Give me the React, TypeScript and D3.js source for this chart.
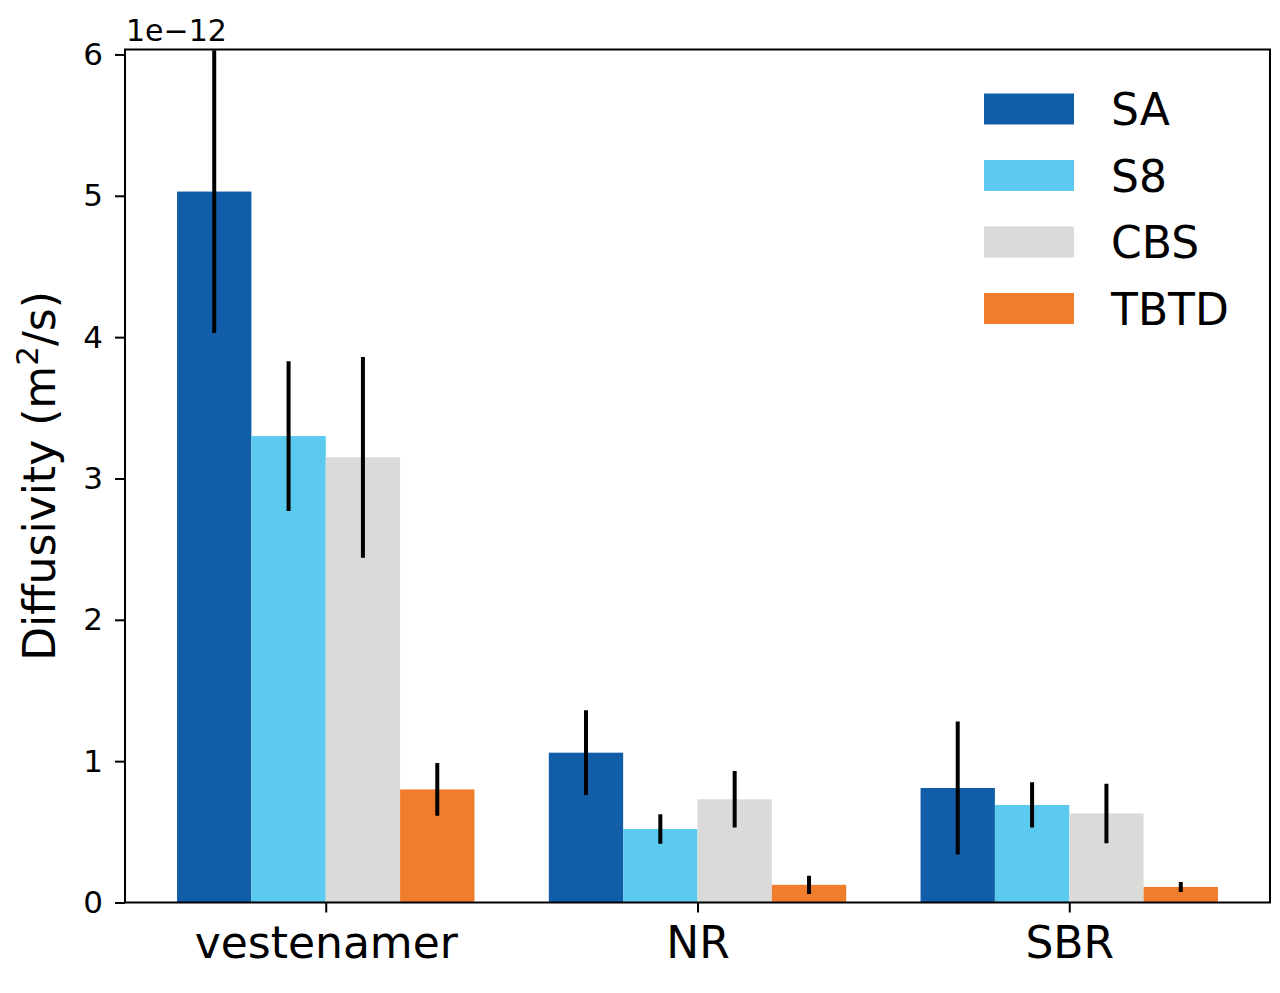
import { useEffect, useRef } from "react";
import * as d3 from "d3";

const categories = ["vestenamer", "NR", "SBR"];
const seriesNames = ["SA", "S8", "CBS", "TBTD"];
const seriesColors = ["#115da8", "#5bcaee", "#dadad8", "#ef7d2b"];
// mean values (x 1e-12 m2/s), one row per series
const meanSA = [5.03, 1.06, 0.81];
const meanS8 = [3.3, 0.52, 0.69];
const meanCBS = [3.15, 0.73, 0.63];
const meanTBTD = [0.8, 0.125, 0.11];
// symmetric error half-widths
const errSA = [1.0, 0.3, 0.47];
const errS8 = [0.53, 0.105, 0.16];
const errCBS = [0.71, 0.2, 0.21];
const errTBTD = [0.187, 0.065, 0.035];
const yTicks = [0, 1, 2, 3, 4, 5, 6];

const W = 1280;
const H = 993;
const M = { left: 125, right: 1270, top: 49.5, bottom: 902.5 };
const FONT = "DejaVu Sans, sans-serif";

export default function App() {
  const ref = useRef<SVGSVGElement | null>(null);

  useEffect(() => {
    const svgEl = ref.current;
    if (!svgEl) return;
    const svg = d3.select(svgEl);
    svg.selectAll("*").remove();

    const means = [meanSA, meanS8, meanCBS, meanTBTD];
    const errs = [errSA, errS8, errCBS, errTBTD];
    const barW = 0.2;

    const x = d3.scaleLinear().domain([-0.54, 2.54]).range([M.left, M.right]);
    const y = d3.scaleLinear().domain([0, 6.035]).range([M.bottom, M.top]);

    svg
      .append("defs")
      .append("clipPath")
      .attr("id", "plot-clip")
      .append("rect")
      .attr("x", M.left)
      .attr("y", M.top)
      .attr("width", M.right - M.left)
      .attr("height", M.bottom - M.top);

    const plot = svg.append("g").attr("clip-path", "url(#plot-clip)");

    // bars
    seriesNames.forEach((_, s) => {
      const off = (s - 1.5) * barW;
      plot
        .append("g")
        .selectAll("rect")
        .data(means[s])
        .join("rect")
        .attr("x", (_d, i) => x(i + off - barW / 2))
        .attr("width", x(barW) - x(0))
        .attr("y", (d) => y(d))
        .attr("height", (d) => y(0) - y(d))
        .attr("fill", seriesColors[s]);
    });

    // error bars (no caps)
    seriesNames.forEach((_, s) => {
      const off = (s - 1.5) * barW;
      plot
        .append("g")
        .selectAll("line")
        .data(means[s])
        .join("line")
        .attr("x1", (_d, i) => x(i + off))
        .attr("x2", (_d, i) => x(i + off))
        .attr("y1", (d, i) => y(d - errs[s][i]))
        .attr("y2", (d, i) => y(d + errs[s][i]))
        .attr("stroke", "#000")
        .attr("stroke-width", 4);
    });

    // frame
    svg
      .append("rect")
      .attr("x", M.left)
      .attr("y", M.top)
      .attr("width", M.right - M.left)
      .attr("height", M.bottom - M.top)
      .attr("fill", "none")
      .attr("stroke", "#000")
      .attr("stroke-width", 2);

    // y axis
    const yAxis = svg
      .append("g")
      .attr("transform", `translate(${M.left},0)`)
      .call(d3.axisLeft(y).tickValues(yTicks).tickSize(10).tickPadding(12).tickFormat(d3.format("d")));
    yAxis.select(".domain").remove();
    yAxis.selectAll(".tick line").attr("stroke-width", 2);
    yAxis.selectAll(".tick text").style("font", `31px ${FONT}`).attr("fill", "#000");

    // x axis
    const xAxis = svg
      .append("g")
      .attr("transform", `translate(0,${M.bottom})`)
      .call(
        d3
          .axisBottom(x)
          .tickValues([0, 1, 2])
          .tickSize(10)
          .tickPadding(14)
          .tickFormat((d) => categories[d as number])
      );
    xAxis.select(".domain").remove();
    xAxis.selectAll(".tick line").attr("stroke-width", 2);
    xAxis.selectAll(".tick text").style("font", `44px ${FONT}`).attr("fill", "#000");

    // offset text
    svg
      .append("text")
      .attr("x", M.left + 1)
      .attr("y", 41)
      .style("font", `30px ${FONT}`)
      .text("1e\u221212");

    // y label
    const yl = svg
      .append("text")
      .attr("transform", `translate(55,${(M.top + M.bottom) / 2}) rotate(-90)`)
      .attr("text-anchor", "middle")
      .style("font", `44px ${FONT}`);
    yl.append("tspan").text("Diffusivity (m");
    yl.append("tspan").attr("dy", -17).style("font-size", "31px").text("2");
    yl.append("tspan").attr("dy", 17).text("/s)");

    // legend
    const leg = svg
      .append("g")
      .selectAll("g")
      .data(seriesNames)
      .join("g")
      .attr("transform", (_d, i) => `translate(984,${109 + i * 66.5})`);
    leg
      .append("rect")
      .attr("x", 0)
      .attr("y", -15.5)
      .attr("width", 90)
      .attr("height", 31)
      .attr("fill", (_d, i) => seriesColors[i]);
    leg
      .append("text")
      .attr("x", 127)
      .attr("y", 16)
      .style("font", `44px ${FONT}`)
      .text((d) => d);
  }, []);

  return (
    <svg
      ref={ref}
      width={W}
      height={H}
      style={{ position: "absolute", left: 0, top: 0, background: "#fff", display: "block" }}
    />
  );
}
